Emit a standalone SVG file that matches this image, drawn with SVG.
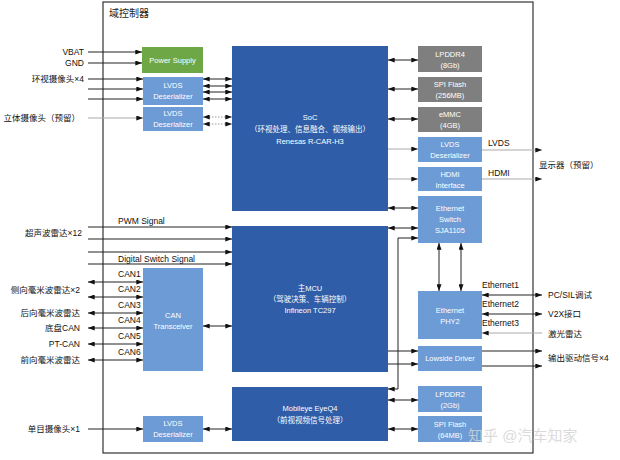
<svg xmlns="http://www.w3.org/2000/svg" width="620" height="460" viewBox="0 0 620 460">
<defs>
<marker id="ah" viewBox="0 0 8 6" refX="8" refY="3" markerWidth="7" markerHeight="5" markerUnits="userSpaceOnUse" orient="auto-start-reverse"><path d="M0,0 L8,3 L0,6 z" fill="#111"/></marker>
<marker id="ahg" viewBox="0 0 8 6" refX="8" refY="3" markerWidth="7" markerHeight="5" markerUnits="userSpaceOnUse" orient="auto-start-reverse"><path d="M0,0 L8,3 L0,6 z" fill="#111"/></marker>
</defs>
<style>
.t{font-family:"Liberation Sans","Noto Sans CJK SC",sans-serif;}
.lbl{font-family:"Liberation Sans","Noto Sans CJK SC",sans-serif;font-size:8.5px;fill:#111;}
.bt{font-family:"Liberation Sans","Noto Sans CJK SC",sans-serif;font-size:7.5px;fill:#fff;text-anchor:middle;}
.dark{fill:#2F5DA8;}
.light{fill:#6C9BD6;}
.gray{fill:#7F7F7F;}
.green{fill:#6EA846;}
.ln{stroke:#222;stroke-width:1;fill:none;}
.lg{stroke:#aaa;stroke-width:1;fill:none;}
.dot{stroke:#999;stroke-width:1;stroke-dasharray:1.5,1.5;fill:none;}
.one{marker-end:url(#ah);}
.two{marker-start:url(#ah);marker-end:url(#ah);}
</style>
<rect width="620" height="460" fill="#fff"/>
<g id="frame">
<rect x="103" y="2" width="430" height="451" fill="none" stroke="#333" stroke-width="1.2"/>
<text class="t" x="109" y="17" font-size="10" fill="#222">域控制器</text>
</g>

<g id="power"><rect class="green" x="142" y="47" width="61" height="26"/><text class="bt" x="172.5" y="63">Power Supply</text></g>
<g id="lvds1"><rect class="light" x="143" y="77" width="60" height="28"/><text class="bt" x="173" y="88">LVDS</text><text class="bt" x="173" y="99">Deserializer</text></g>
<g id="lvds2"><rect class="light" x="143" y="107" width="60" height="24"/><text class="bt" x="173" y="116">LVDS</text><text class="bt" x="173" y="127">Deserializer</text></g>
<g id="can"><rect class="light" x="143" y="268" width="60" height="103"/><text class="bt" x="173" y="318">CAN</text><text class="bt" x="173" y="329">Transceiver</text></g>
<g id="lvds3"><rect class="light" x="143" y="416" width="60" height="26"/><text class="bt" x="173" y="426">LVDS</text><text class="bt" x="173" y="437">Deserializer</text></g>

<g id="soc"><rect class="dark" x="232" y="46" width="156" height="165"/><text class="bt" x="310" y="120">SoC</text><text class="bt" x="310" y="132">（环视处理、信息融合、视频输出）</text><text class="bt" x="310" y="144">Renesas R-CAR-H3</text></g>
<g id="mcu"><rect class="dark" x="232" y="226" width="156" height="146"/><text class="bt" x="310" y="291">主MCU</text><text class="bt" x="310" y="302">（驾驶决策、车辆控制）</text><text class="bt" x="310" y="313">Infineon TC297</text></g>
<g id="eyeq"><rect class="dark" x="232" y="387" width="156" height="54"/><text class="bt" x="310" y="411">Mobileye EyeQ4</text><text class="bt" x="310" y="423">（前视视频信号处理）</text></g>

<g id="lpddr4"><rect class="gray" x="418" y="46" width="64" height="26"/><text class="bt" x="450" y="57">LPDDR4</text><text class="bt" x="450" y="68">(8Gb)</text></g>
<g id="spi1"><rect class="gray" x="418" y="77" width="64" height="25"/><text class="bt" x="450" y="87">SPI Flash</text><text class="bt" x="450" y="98">(256MB)</text></g>
<g id="emmc"><rect class="gray" x="418" y="107" width="64" height="25"/><text class="bt" x="450" y="117">eMMC</text><text class="bt" x="450" y="128">(4GB)</text></g>
<g id="lvdsr"><rect class="light" x="418" y="137" width="64" height="25"/><text class="bt" x="450" y="147">LVDS</text><text class="bt" x="450" y="158">Deserializer</text></g>
<g id="hdmi"><rect class="light" x="418" y="167" width="64" height="24"/><text class="bt" x="450" y="177">HDMI</text><text class="bt" x="450" y="188">Interface</text></g>
<g id="switch"><rect class="light" x="418" y="196" width="64" height="47"/><text class="bt" x="450" y="211">Ethernet</text><text class="bt" x="450" y="222">Switch</text><text class="bt" x="450" y="233">SJA1105</text></g>
<g id="phy"><rect class="light" x="418" y="291" width="64" height="48"/><text class="bt" x="450" y="313">Ethernet</text><text class="bt" x="450" y="324">PHY2</text></g>
<g id="lowside"><rect class="light" x="418" y="346" width="64" height="25"/><text class="bt" x="450" y="361">Lowside Driver</text></g>
<g id="lpddr2"><rect class="light" x="418" y="386" width="64" height="26"/><text class="bt" x="450" y="397">LPDDR2</text><text class="bt" x="450" y="408">(2Gb)</text></g>
<g id="spi2"><rect class="light" x="418" y="416" width="64" height="26"/><text class="bt" x="450" y="427">SPI Flash</text><text class="bt" x="450" y="438">(64MB)</text></g>

<g id="connectors">
<line class="ln one" x1="88" y1="52" x2="142" y2="52"/>
<line class="ln one" x1="88" y1="63" x2="142" y2="63"/>
<line class="ln one" x1="88" y1="79" x2="143" y2="79"/>
<line class="ln one" x1="88" y1="89" x2="143" y2="89"/>
<line class="ln one" x1="88" y1="99" x2="143" y2="99"/>
<line class="lg one" x1="88" y1="118" x2="143" y2="118"/>
<line class="ln two" x1="203" y1="79" x2="232" y2="79"/>
<line class="ln two" x1="203" y1="86" x2="232" y2="86"/>
<line class="ln two" x1="203" y1="92" x2="232" y2="92"/>
<line class="ln two" x1="203" y1="99" x2="232" y2="99"/>
<line class="dot two" x1="203" y1="117" x2="232" y2="117"/>
<line class="dot two" x1="203" y1="124" x2="232" y2="124"/>
<line class="ln one" x1="88" y1="227" x2="232" y2="227"/>
<line class="ln one" x1="88" y1="239" x2="232" y2="239"/>
<line class="ln one" x1="88" y1="252" x2="232" y2="252"/>
<line class="ln one" x1="88" y1="264" x2="232" y2="264"/>
<line class="ln two" x1="88" y1="282" x2="143" y2="282"/>
<line class="ln two" x1="88" y1="297" x2="143" y2="297"/>
<line class="ln two" x1="88" y1="313" x2="143" y2="313"/>
<line class="ln two" x1="88" y1="328" x2="143" y2="328"/>
<line class="ln two" x1="88" y1="344" x2="143" y2="344"/>
<line class="ln two" x1="88" y1="360" x2="143" y2="360"/>
<line class="ln two" x1="203" y1="326" x2="232" y2="326"/>
<line class="ln one" x1="88" y1="429" x2="143" y2="429"/>
<line class="ln two" x1="203" y1="429" x2="232" y2="429"/>
<line class="ln two" x1="388" y1="60" x2="418" y2="60"/>
<line class="ln two" x1="388" y1="89" x2="418" y2="89"/>
<line class="ln two" x1="388" y1="119" x2="418" y2="119"/>
<line class="lg one" x1="388" y1="149" x2="418" y2="149"/>
<line class="lg one" x1="388" y1="179" x2="418" y2="179"/>
<line class="ln two" x1="388" y1="208" x2="418" y2="208"/>
<line class="ln two" x1="388" y1="228" x2="418" y2="228"/>
<path class="ln two" d="M388,389 H398 V238 H418"/>
<line class="ln one" x1="388" y1="351" x2="418" y2="351"/>
<line class="ln one" x1="388" y1="364" x2="418" y2="364"/>
<line class="ln two" x1="388" y1="400" x2="418" y2="400"/>
<line class="ln two" x1="388" y1="429" x2="418" y2="429"/>
<line class="ln two" x1="439" y1="243" x2="439" y2="291"/>
<line class="ln two" x1="461" y1="243" x2="461" y2="291"/>
<line class="lg one" x1="482" y1="150" x2="542" y2="150"/>
<line class="lg one" x1="482" y1="179" x2="542" y2="179"/>
<line class="ln two" x1="482" y1="295" x2="542" y2="295"/>
<line class="ln two" x1="482" y1="314" x2="542" y2="314"/>
<line class="lg one" x1="542" y1="333" x2="482" y2="333"/>
<line class="ln one" x1="482" y1="351" x2="542" y2="351"/>
<line class="ln one" x1="482" y1="366" x2="542" y2="366"/>
</g>

<g id="labels">
<text class="lbl" x="84" y="55" text-anchor="end">VBAT</text>
<text class="lbl" x="84" y="66" text-anchor="end">GND</text>
<text class="lbl" x="84" y="82" text-anchor="end">环视摄像头×4</text>
<text class="lbl" x="80" y="121" text-anchor="end">立体摄像头（预留）</text>
<text class="lbl" x="82" y="236" text-anchor="end">超声波雷达×12</text>
<text class="lbl" x="118" y="224">PWM Signal</text>
<text class="lbl" x="118" y="262">Digital Switch Signal</text>
<text class="lbl" x="118" y="277">CAN1</text>
<text class="lbl" x="118" y="292">CAN2</text>
<text class="lbl" x="118" y="308">CAN3</text>
<text class="lbl" x="118" y="323">CAN4</text>
<text class="lbl" x="118" y="339">CAN5</text>
<text class="lbl" x="118" y="355">CAN6</text>
<text class="lbl" x="80" y="293" text-anchor="end">侧向毫米波雷达×2</text>
<text class="lbl" x="80" y="316" text-anchor="end">后向毫米波雷达</text>
<text class="lbl" x="80" y="331" text-anchor="end">底盘CAN</text>
<text class="lbl" x="80" y="347" text-anchor="end">PT-CAN</text>
<text class="lbl" x="80" y="363" text-anchor="end">前向毫米波雷达</text>
<text class="lbl" x="80" y="432" text-anchor="end">单目摄像头×1</text>
<text class="lbl" x="488" y="146">LVDS</text>
<text class="lbl" x="488" y="176">HDMI</text>
<text class="lbl" x="539" y="168">显示器（预留）</text>
<text class="lbl" x="482" y="288">Ethernet1</text>
<text class="lbl" x="482" y="307">Ethernet2</text>
<text class="lbl" x="482" y="326">Ethernet3</text>
<text class="lbl" x="548" y="298">PC/SIL调试</text>
<text class="lbl" x="548" y="317">V2X接口</text>
<text class="lbl" x="548" y="337">激光雷达</text>
<text class="lbl" x="548" y="361">输出驱动信号×4</text>
<text class="t" x="468" y="441" font-size="15" fill="#d4d4d4" fill-opacity="0.85">知乎 @汽车知家</text>
</g>
</svg>
